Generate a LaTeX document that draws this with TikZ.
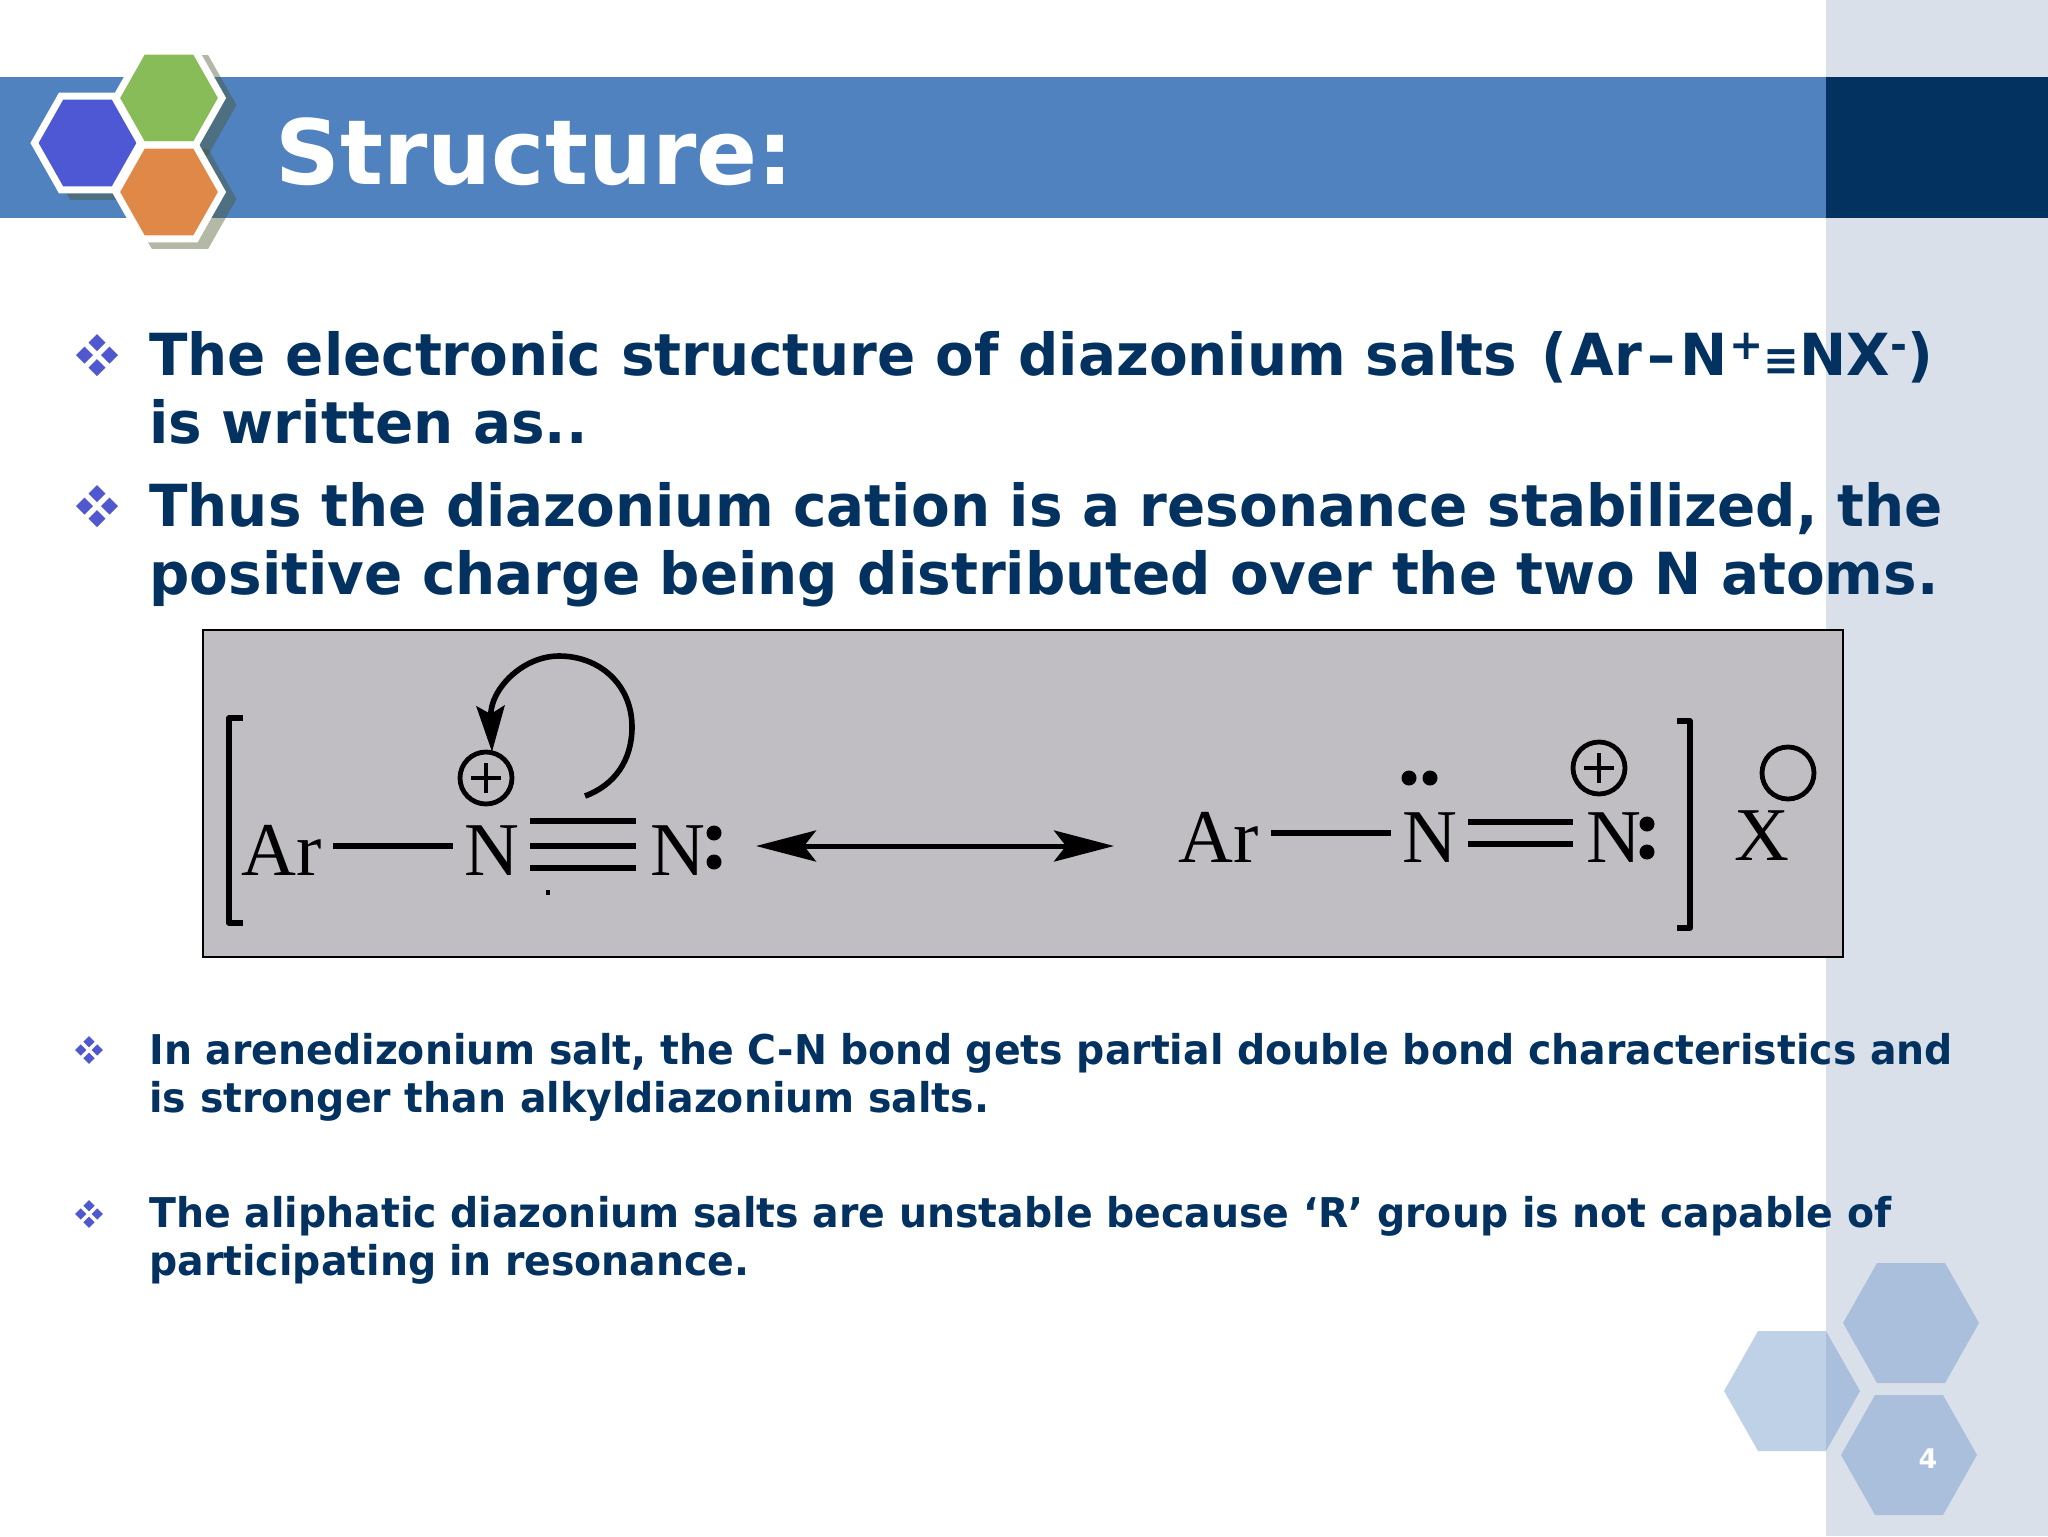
\documentclass[tikz,border=0pt]{standalone}
\usepackage{fontspec}
\setmainfont{DejaVu Sans}
\newfontfamily\slidefont{DejaVu Sans}[FakeStretch=0.972]
\newfontfamily\notefont{DejaVu Sans}[FakeStretch=0.961]
\newfontfamily\chemfont{Liberation Serif}
\usetikzlibrary{arrows.meta}
\definecolor{slidenavy}{RGB}{3,50,97}
\definecolor{slideband}{RGB}{79,130,190}
\definecolor{slidepanel}{RGB}{217,224,234}
\definecolor{slidehex}{RGB}{110,152,201}
\definecolor{slidebullet}{RGB}{80,88,208}
\definecolor{slideshadow}{RGB}{75,85,45}
\definecolor{boxgray}{RGB}{192,190,194}
\definecolor{hexblue}{RGB}{78,88,212}
\definecolor{hexgreen}{RGB}{135,188,88}
\definecolor{hexorange}{RGB}{224,136,72}
\newcommand{\raisedmark}[1]{\raisebox{8pt}{\fontsize{21}{21}\selectfont #1}}
\tikzset{
  bigline/.style = {anchor=base west, inner sep=0pt, text=slidenavy, font=\fontsize{29}{29}\selectfont\slidefont\bfseries},
  smallline/.style = {anchor=base west, inner sep=0pt, text=slidenavy, font=\fontsize{20.5}{20.5}\selectfont\notefont\bfseries},
  atom/.style = {anchor=base, inner sep=0pt, text height=29pt, text depth=0pt, font=\fontsize{38}{38}\selectfont\chemfont},
  bond/.style = {line width=3pt, shorten >=5.5pt, shorten <=5.5pt},
  triplebond/.style = {line width=3pt, shorten >=7pt, shorten <=5.5pt},
  doublebond/.style = {line width=3pt, shorten >=6.5pt, shorten <=5.5pt},
  bracket/.style = {line width=2.8pt, line join=round},
  charge/.style = {circle, draw, line width=2.4pt, minimum size=26pt, inner sep=0pt},
  lonepair/.style = {circle, fill, inner sep=0pt, minimum size=7.5pt},
  hexcell/.pic = {\path[pic actions] (-68,0) -- (-34,-60) -- (34,-60) -- (68,0) -- (34,60) -- (-34,60) -- cycle;},
  bigbullet/.pic = {
    \foreach \dx/\dy in {0/-12.5, 12.5/0, 0/12.5, -12.5/0}
      \fill[slidebullet] (\dx-8.5,\dy) -- (\dx,\dy-8.5) -- (\dx+8.5,\dy) -- (\dx,\dy+8.5) -- cycle;
  }
}
\begin{document}
\begin{tikzpicture}[x=0.5pt, y=-0.5pt]
  \useasboundingbox (0,0) rectangle (2048,1536);
  % slide background
  \fill[slidepanel] (1826,0) rectangle (2048,1536);
  \fill[slideband] (0,77) rectangle (1826,218);
  \fill[slidenavy] (1826,77) rectangle (2048,218);
  % logo
  \foreach \cx/\cy in {87.5/143, 169/98, 169/192}
    \pic[fill=slideshadow, fill opacity=0.42, scale=0.83] at (\cx+11,\cy+7) {hexcell};
  \pic[fill=hexblue, draw=white, line width=3.5pt, scale=0.78] at (87.5,143) {hexcell};
  \pic[fill=hexgreen, draw=white, line width=3.5pt, scale=0.78] at (169,98) {hexcell};
  \pic[fill=hexorange, draw=white, line width=3.5pt, scale=0.78] at (169,192) {hexcell};
  \node[anchor=base west, inner sep=0pt, text=white, font=\fontsize{45}{45}\selectfont\bfseries] (title) at (275,184) {Structure:};
  % text lines
  \pic at (97,355) {bigbullet};
  \pic at (97,506) {bigbullet};
  \pic[scale=0.66] at (89,1050) {bigbullet};
  \pic[scale=0.66] at (89,1214) {bigbullet};
  \node[bigline] (lineA) at (149,375) {The electronic structure of diazonium salts\hspace{2.5pt} (\kern1.5pt Ar\kern2.5pt–\kern2.5pt N\kern1pt\raisedmark{+}{\fontsize{22}{22}\selectfont ≡}NX\raisedmark{-})};
  \node[bigline] (lineB) at (149,443) {is written as..};
  \node[bigline] (lineC) at (149,526) {Thus the diazonium cation is a resonance stabilized, the};
  \node[bigline] (lineD) at (149,594) {positive charge being distributed over the two N atoms.};
  \node[smallline] (lineE) at (149,1064) {In arenedizonium salt, the C-N bond gets partial double bond characteristics and};
  \node[smallline] (lineF) at (149,1112) {is stronger than alkyldiazonium salts.};
  \node[smallline] (lineG) at (149,1227) {The aliphatic diazonium salts are unstable because ‘R’ group is not capable of};
  \node[smallline] (lineH) at (149,1275) {participating in resonance.};
  % picture box
  \draw[fill=boxgray, line width=1pt] (203,630) rectangle (1843,957);
  \draw[bracket] (243,718) -- (229,718) -- (229,923) -- (243,923);
  \node[atom] (arL) at (281.5,875) {Ar};
  \node[atom] (nL) at (491.5,875) {N};
  \node[atom] (nM) at (677.5,875) {N};
  \draw[bond] (arL.east) -- (nL.west);
  \foreach \off in {25,0,-22}
    \draw[triplebond] ([yshift=\off*0.5pt]nL.east) -- ([yshift=\off*0.5pt]nM.west);
  \node[lonepair] (dotLa) at (714,833) {};
  \node[lonepair] (dotLb) at (714,862) {};
  \node[fill, inner sep=0pt, minimum width=2pt, minimum height=2.5pt] (tick) at (548,892) {};
  \node[charge] (plusL) at (486,778) {};
  \draw[line width=2.4pt] (plusL.center) +(-15,0) -- +(15,0) (plusL.center) +(0,-15) -- +(0,15);
  \coordinate (curlStart) at (585,796);
  \draw[line width=2.8pt, -{Stealth[length=23pt, width=14pt, inset=4pt]}] (curlStart) .. controls (615,785) and (632,760) .. (632,727) .. controls (632,685) and (600,656) .. (559,656) .. controls (522,656) and (490,690) .. (492,752);
  % resonance arrow
  \coordinate (arrowL) at (756,846);
  \coordinate (arrowR) at (1114,846);
  \draw[line width=2.5pt, {Stealth[length=30pt, width=15.5pt, inset=6pt]}-{Stealth[length=30pt, width=15.5pt, inset=6pt]}] (arrowL) -- (arrowR);
  \node[atom] (arR) at (1219,862) {Ar};
  \node[atom] (nR) at (1429.5,862) {N};
  \node[atom] (nS) at (1614,862) {N};
  \draw[bond] (arR.east) -- (nR.west);
  \foreach \off in {11,-11}
    \draw[doublebond] ([yshift=\off*0.5pt]nR.east) -- ([yshift=\off*0.5pt]nS.west);
  \node[lonepair] (dotRa) at (1409,778) {};
  \node[lonepair] (dotRb) at (1430,778) {};
  \node[lonepair] (dotRc) at (1647,824) {};
  \node[lonepair] (dotRd) at (1647,852) {};
  \node[charge] (plusR) at (1599,768) {};
  \draw[line width=2.4pt] (plusR.center) +(-15,0) -- +(15,0) (plusR.center) +(0,-15) -- +(0,15);
  \draw[bracket] (1677,721) -- (1690,721) -- (1690,928) -- (1677,928);
  \node[atom] (xion) at (1762,860) {X};
  \node[charge] (minusR) at (1788,773) {};
  % corner cells
  \pic[fill=slidehex, fill opacity=0.447] at (1911,1323) {hexcell};
  \pic[fill=slidehex, fill opacity=0.447] at (1909,1455) {hexcell};
  \pic[fill=slidehex, fill opacity=0.447] at (1792,1391) {hexcell};
  \node[inner sep=0pt, text=white, font=\fontsize{13.5}{13.5}\selectfont\bfseries] (pagenum) at (1928,1459) {4};
\end{tikzpicture}
\end{document}
